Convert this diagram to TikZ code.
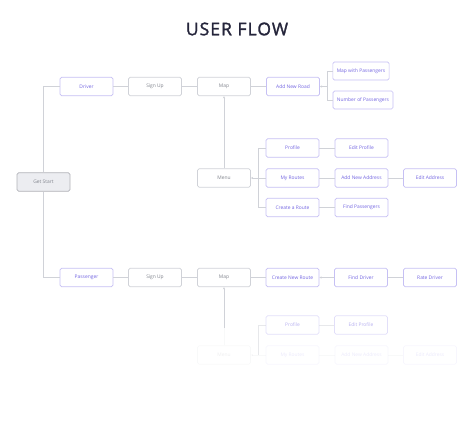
\documentclass[tikz,border=0pt]{standalone}
\usepackage{fontspec}
\setmainfont{Open Sans}
\usetikzlibrary{arrows.meta, positioning, calc}
\definecolor{FlowPurple}{HTML}{7466E2}
\definecolor{FlowLilac}{HTML}{C6C0F4}
\definecolor{FlowGrey}{HTML}{82858E}
\definecolor{FlowLine}{HTML}{D0D2D8}
\definecolor{FlowFill}{HTML}{ECEDF1}
\definecolor{FlowNavy}{HTML}{25253B}
\tikzset{
    % Node styles
    stepbox/.style={
        rectangle,
        rounded corners=1.6pt,
        draw=FlowLine,
        fill=white,
        line width=0.6pt,
        minimum width=53pt,
        minimum height=18.5pt,
        inner xsep=4pt,
        text centered,
        text=FlowGrey,
        font=\fontsize{4.9}{5}\selectfont
    },
    rolebox/.style={
        stepbox,
        draw=FlowLilac,
        text=FlowPurple
    },
    startbox/.style={
        stepbox,
        fill=FlowFill,
        draw=FlowLine!85!black
    },
    % Connector styles
    link/.style={
        draw=FlowLine,
        line width=0.6pt
    },
    backarrow/.style={
        link,
        -{Stealth[length=2.4pt,width=2.2pt]}
    }
}

\begin{document}
\begin{tikzpicture}[x=1pt,y=-1pt]
    \useasboundingbox (0,0) rectangle (474,436);

    % Title
    \node[font=\fontsize{17.5}{20}\selectfont\addfontfeatures{LetterSpace=6,FakeBold=1.6}, text=FlowNavy] (title) at (237,29) {USER FLOW};

    % Start
    \node[startbox] (start) at (43.5,182) {Get Start};

    % Driver branch
    \node[rolebox] (driver) at (86.5,86.5) {Driver};
    \node[stepbox] (signupd) at (155,86.5) {Sign Up};
    \node[stepbox] (mapd) at (224,86.5) {Map};
    \node[rolebox] (road) at (293,86.5) {Add New Road};
    \node[rolebox, minimum height=18pt] (mapwith) at (361,71) {Map with Passengers};
    \node[rolebox, minimum height=18pt] (numpass) at (363,100) {Number of Passengers};

    % Driver menu
    \node[stepbox] (menud) at (224,178) {Menu};
    \node[rolebox] (profiled) at (292.5,148) {Profile};
    \node[rolebox] (editprofd) at (361.5,148) {Edit Profile};
    \node[rolebox] (routesd) at (292.5,178) {My Routes};
    \node[rolebox] (addaddrd) at (361.5,178) {Add New Address};
    \node[rolebox] (editaddrd) at (430,178) {Edit Address};
    \node[rolebox] (creater) at (292.5,207.5) {Create a Route};
    \node[rolebox] (findpass) at (361.5,207.5) {Find Passengers};

    % Passenger branch
    \node[rolebox] (passenger) at (86.5,277.5) {Passenger};
    \node[stepbox] (signupp) at (155,277.5) {Sign Up};
    \node[stepbox] (mapp) at (224,277.5) {Map};
    \node[rolebox] (newroute) at (292.5,277.5) {Create New Route};
    \node[rolebox] (finddriver) at (361,277.5) {Find Driver};
    \node[rolebox] (ratedriver) at (430,277.5) {Rate Driver};

    % Helper coordinates
    \coordinate (roadfork) at (327,86.5);
    \coordinate (menufork) at (258,178);
    \coordinate (menuforkp) at (258,355);
    \coordinate (fadep) at (224,328);

    % Connectors - driver
    \draw[link] (start.north) |- (driver.west);
    \draw[link] (driver) -- (signupd);
    \draw[link] (signupd) -- (mapd);
    \draw[link] (mapd) -- (road);
    \draw[backarrow] (mapwith.west) -| (roadfork) -- (road.east);
    \draw[link] (numpass.west) -| (roadfork);
    \draw[backarrow] (menud) -- (mapd);
    \draw[backarrow] (routesd) -- (menud);
    \draw[link] (profiled.west) -| (menufork);
    \draw[link] (creater.west) -| (menufork);
    \draw[link] (profiled) -- (editprofd);
    \draw[link] (routesd) -- (addaddrd);
    \draw[link] (addaddrd) -- (editaddrd);
    \draw[link] (creater) -- (findpass);

    % Connectors - passenger
    \draw[link] (start.south) |- (passenger.west);
    \draw[link] (passenger) -- (signupp);
    \draw[link] (signupp) -- (mapp);
    \draw[link] (mapp) -- (newroute);
    \draw[backarrow] (finddriver) -- (newroute);
    \draw[link] (finddriver) -- (ratedriver);
    \draw[backarrow] (fadep) -- (mapp.south);

    % Faded rows
    \begin{scope}[opacity=0.5]
        \node[rolebox] (profilep) at (292.5,325) {Profile};
        \node[rolebox] (editprofp) at (361,325) {Edit Profile};
        \draw[link] (profilep) -- (editprofp);
        \draw[link] (profilep.west) -| (menuforkp);
    \end{scope}
    \begin{scope}[opacity=0.14]
        \node[stepbox] (menup) at (224,355) {Menu};
        \node[rolebox] (routesp) at (292.5,355) {My Routes};
        \node[rolebox] (addaddrp) at (361.5,355) {Add New Address};
        \node[rolebox] (editaddrp) at (430,355) {Edit Address};
        \draw[link] (menup.north) -- (fadep);
        \draw[backarrow] (routesp) -- (menup);
        \draw[link] (routesp) -- (addaddrp);
        \draw[link] (addaddrp) -- (editaddrp);
    \end{scope}
\end{tikzpicture}
\end{document}
